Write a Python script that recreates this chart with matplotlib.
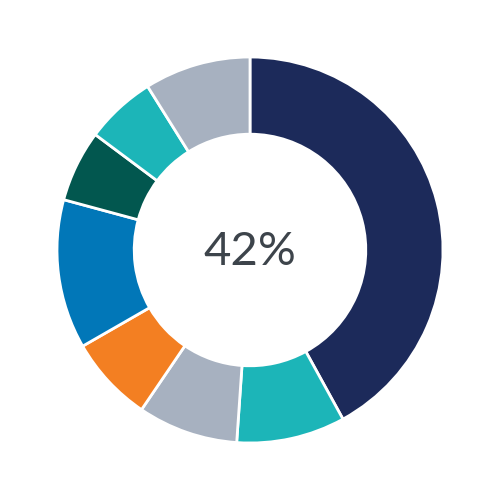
import matplotlib
matplotlib.use("Agg")
import matplotlib.pyplot as plt

# Segment shares, clockwise from top
labels = ["Navy", "Teal", "Gray", "Orange", "Blue", "Dark green", "Teal 2", "Gray 2"]
shares = [42.0, 9.1, 8.4, 7.2, 12.5, 6.0, 5.9, 8.9]
colors = ["#1c2a5a", "#1cb5b8", "#a7b1c0", "#f37f22", "#0177b8", "#02574f", "#1cb5b8", "#a7b1c0"]
center_label = "42%"

fig = plt.figure(figsize=(5, 5), dpi=100)
ax = fig.add_axes([0, 0, 1, 1])

ax.pie(
    shares,
    colors=colors,
    startangle=90,
    counterclock=False,
    radius=1.0,
    wedgeprops=dict(width=0.4, edgecolor="white", linewidth=2),
)

ax.text(0, -0.01, center_label, ha="center", va="center",
        fontsize=34, family=["Lato", "DejaVu Sans"], color="#3d444b")

lim = 250 / 193
ax.set_xlim(-lim, lim)
ax.set_ylim(-lim, lim)
ax.set_aspect("equal")
ax.axis("off")

fig.savefig("out.png", dpi=100, facecolor="white")
